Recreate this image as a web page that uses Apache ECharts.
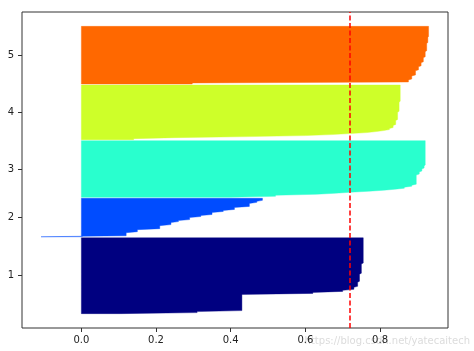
<!DOCTYPE html>
<html>
<head>
<meta charset="utf-8">
<script src="https://cdn.jsdelivr.net/npm/echarts@6/dist/echarts.min.js"></script>
<style>
html,body{margin:0;padding:0;background:#fff;}
#chart{width:474px;height:351px;}
</style>
</head>
<body>
<div id="chart"></div>
<script>
// Cluster labels and colours (jet colormap)
const clusterLabels = ['1', '2', '3', '4', '5'];
const clusterColors = ['#000080', '#004cff', '#29ffce', '#ceff29', '#ff6800'];

// Silhouette values per cluster, sorted ascending (bottom to top), as runs: value + number of samples
const c1Values = [0.105, 0.31, 0.43, 0.62, 0.70, 0.73, 0.74, 0.745, 0.75, 0.755];
const c1Counts = [1, 2, 17, 2, 2, 3, 5, 8, 10, 26];

const c2Values = [-0.108, 0.12, 0.15, 0.21, 0.24, 0.26, 0.29, 0.32, 0.35, 0.38, 0.41, 0.45, 0.47, 0.485];
const c2Counts = [1, 4, 3, 4, 3, 2, 3, 2, 3, 2, 3, 4, 2, 3];

const c3Values = [0.40, 0.52, 0.63, 0.68, 0.72, 0.77, 0.81, 0.84, 0.865, 0.885, 0.897, 0.905, 0.912, 0.918, 0.921];
const c3Counts = [1, 2, 1, 1, 1, 1, 1, 1, 2, 2, 10, 3, 3, 3, 25];

const c4Values = [0.14, 0.25, 0.45, 0.60, 0.67, 0.72, 0.765, 0.79, 0.81, 0.825, 0.835, 0.842, 0.847, 0.851, 0.854];
const c4Counts = [2, 1, 1, 1, 1, 1, 1, 1, 1, 2, 3, 5, 8, 10, 17];

const c5Values = [0.297, 0.876, 0.885, 0.895, 0.903, 0.91, 0.916, 0.921, 0.925, 0.928, 0.93];
const c5Counts = [2, 3, 4, 5, 4, 4, 5, 6, 8, 6, 11];

// Average silhouette score (red dashed line)
const avgScore = 0.718;

// X tick labels
const xTicks = [0.0, 0.2, 0.4, 0.6, 0.8];

const valueRuns = [c1Values, c2Values, c3Values, c4Values, c5Values];
const countRuns = [c1Counts, c2Counts, c3Counts, c4Counts, c5Counts];

const clusters = [];
let yLower = 0;
for (let i = 0; i < valueRuns.length; i++) {
  const n = countRuns[i].reduce((a, b) => a + b, 0);
  clusters.push({
    label: clusterLabels[i], color: clusterColors[i],
    values: valueRuns[i], counts: countRuns[i],
    start: yLower, end: yLower + n - 1, center: yLower + (n - 1) / 2
  });
  yLower += n;
}
const yDataMax = yLower - 1;
const yMin = -0.05 * yDataMax, yMax = yDataMax * 1.05;
const centers = clusters.map(c => c.center);

const chart = echarts.init(document.getElementById('chart'), null, {renderer: 'canvas'});
const font = {fontFamily: 'DejaVu Sans', fontSize: 10, color: '#222'};

chart.setOption({
  animation: false,
  backgroundColor: '#fff',
  grid: {left: 22, right: 26, top: 12, bottom: 23, show: true, borderColor: '#333', borderWidth: 1, backgroundColor: 'transparent'},
  xAxis: {
    type: 'value', min: -0.159, max: 0.982,
    axisLine: {show: false, onZero: false},
    splitLine: {show: false},
    axisTick: {show: true, length: 4, lineStyle: {color: '#333'}, customValues: xTicks},
    axisLabel: Object.assign({margin: 7, customValues: xTicks, formatter: v => v.toFixed(1)}, font)
  },
  yAxis: {
    type: 'value', min: yMin, max: yMax,
    axisLine: {show: false, onZero: false},
    splitLine: {show: false},
    axisTick: {show: true, length: 4, lineStyle: {color: '#333'}, customValues: centers},
    axisLabel: Object.assign({margin: 8, customValues: centers, formatter: v => {
      let best = 0, d = Infinity;
      centers.forEach((c, i) => { if (Math.abs(c - v) < d) { d = Math.abs(c - v); best = i; } });
      return clusterLabels[best];
    }}, font)
  },
  series: [
    {
      type: 'custom',
      silent: true,
      data: clusters.map(c => [c.start, c.end]),
      encode: {y: [0, 1]},
      renderItem: function (params, api) {
        // Like fill_betweenx: one point per sample, joined linearly
        const c = clusters[params.dataIndex];
        const pts = [api.coord([0, c.start])];
        let y = c.start;
        c.values.forEach((v, k) => {
          pts.push(api.coord([v, y]));
          y += c.counts[k];
          if (c.counts[k] > 1) pts.push(api.coord([v, y - 1]));
        });
        pts.push(api.coord([0, y - 1]));
        return {type: 'polygon', shape: {points: pts}, style: {fill: c.color, stroke: c.color, lineWidth: 0.4}};
      }
    },
    {
      type: 'line',
      data: [],
      markLine: {
        silent: true, symbol: 'none',
        label: {show: false},
        lineStyle: {color: '#ff0000', type: [5, 2.5], width: 1.5},
        data: [{xAxis: avgScore}]
      }
    }
  ],
  graphic: [{
    type: 'text', right: 4, top: 336,
    style: {text: 'https://blog.csdn.net/yatecaitech', fill: 'rgba(190,190,190,0.55)', font: '10px "DejaVu Sans"'}
  }]
});
</script>
</body>
</html>
